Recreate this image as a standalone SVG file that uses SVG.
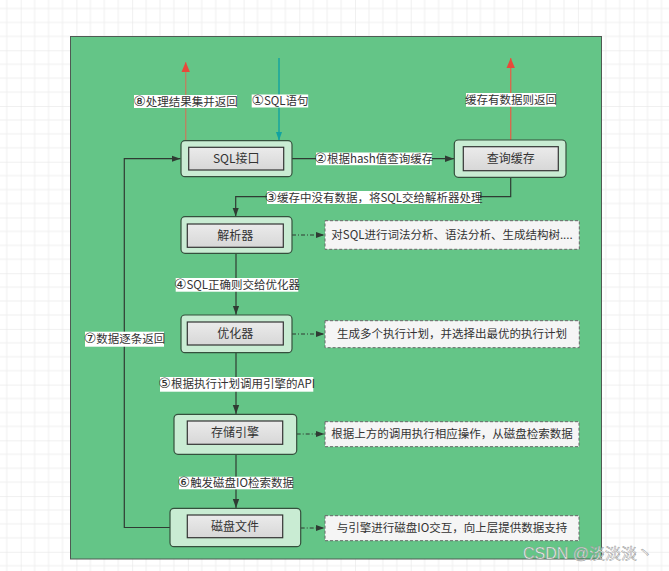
<svg xmlns="http://www.w3.org/2000/svg" width="669" height="571" viewBox="0 0 669 571">
  <style>
    .outer { fill: #c9ecd3; stroke: #35503d; stroke-width: 1.2; }
    .inner { fill: url(#innerGrad); stroke: #333333; stroke-width: 1.2; }
    .ntxt { font-family: "Noto Sans CJK SC", "Noto Sans", sans-serif; font-size: 12px; fill: #333333; text-anchor: middle; }
    .note { fill: #f5f5f5; stroke: #666666; stroke-width: 1; stroke-dasharray: 3 2; }
    .notetxt { font-family: "Noto Sans CJK SC", "Noto Sans", sans-serif; font-size: 11.5px; fill: #333333; text-anchor: middle; }
    .edge { fill: none; stroke: #2f3b33; stroke-width: 1.2; }
    .dashdot { fill: none; stroke: #2f3b33; stroke-width: 1.1; stroke-dasharray: 4 2 1 2; }
    .lblbg { fill: #ffffff; }
    .lbl { font-family: "Noto Sans CJK SC", "Noto Sans", sans-serif; font-size: 11.5px; fill: #333333; text-anchor: middle; }
    .cd { font-family: "DejaVu Sans", "Noto Sans CJK SC", sans-serif; font-size: 14px; }
  </style>
  <defs>
    <pattern id="grid" patternUnits="userSpaceOnUse" x="20.7" y="50.3" width="55.72" height="55.72">
      <path d="M13.93 0V55.72M27.86 0V55.72M41.79 0V55.72M0 13.93H55.72M0 27.86H55.72M0 41.79H55.72" stroke="#f0f0f0" stroke-width="1" fill="none"/>
      <path d="M0 0V55.72M0 0H55.72" stroke="#e2e2e2" stroke-width="1" fill="none"/>
    </pattern>
    <linearGradient id="innerGrad" x1="0" y1="0" x2="0" y2="1">
      <stop offset="0" stop-color="#ebebeb"/>
      <stop offset="1" stop-color="#d7d7d7"/>
    </linearGradient>
    <marker id="arr" markerUnits="userSpaceOnUse" markerWidth="10" markerHeight="8" refX="9" refY="4" orient="auto">
      <path d="M0 0.8L9 4L0 7.2Z" fill="#2f3b33"/>
    </marker>
    <marker id="arrTeal" markerUnits="userSpaceOnUse" markerWidth="10" markerHeight="8" refX="9" refY="4" orient="auto">
      <path d="M0 0.8L9 4L0 7.2Z" fill="#12a3a0"/>
    </marker>
    <marker id="arrRed" markerUnits="userSpaceOnUse" markerWidth="12" markerHeight="10" refX="10" refY="5" orient="auto">
      <path d="M0 0.8L10 5L0 9.2Z" fill="#e8493a"/>
    </marker>
  </defs>

  <rect x="0" y="0" width="669" height="571" fill="#ffffff"/>
  <rect x="0" y="0" width="669" height="571" fill="url(#grid)"/>
  <rect x="70.5" y="36.5" width="531" height="522.5" fill="#64c587" stroke="#4f5a53" stroke-width="1"/>

  <g id="connectors">
    <path d="M279 58V140.5" fill="none" stroke="#12a3a0" stroke-width="1.4" marker-end="url(#arrTeal)"/>
    <path d="M185.7 140.7V62" fill="none" stroke="#b88562" stroke-width="1.4" marker-end="url(#arrRed)"/>
    <path d="M510.7 140V58" fill="none" stroke="#d66a4e" stroke-width="1.4" marker-end="url(#arrRed)"/>
    <path class="edge" d="M292 158.7H454" marker-end="url(#arr)"/>
    <path class="edge" d="M510.7 177.3V196.7H235.7V216.5" marker-end="url(#arr)"/>
    <path class="edge" d="M236 253.3V314.7" marker-end="url(#arr)"/>
    <path class="edge" d="M236 352.7V414" marker-end="url(#arr)"/>
    <path class="edge" d="M236 454.3V508" marker-end="url(#arr)"/>
    <path class="edge" d="M170 527.5H124.3V158.7H180.5" marker-end="url(#arr)"/>
    <path class="dashdot" d="M292 235H324.5" marker-end="url(#arr)"/>
    <path class="dashdot" d="M292 334H324.5" marker-end="url(#arr)"/>
    <path class="dashdot" d="M296.7 434H324.5" marker-end="url(#arr)"/>
    <path class="dashdot" d="M300.7 528H324.5" marker-end="url(#arr)"/>

    <rect class="lblbg" x="134" y="95" width="103" height="13"/>
    <text class="lbl" x="185.5" y="105.5"><tspan class="cd">⑧</tspan>处理结果集并返回</text>
    <rect class="lblbg" x="251.7" y="94.5" width="56.5" height="13"/>
    <text class="lbl" x="280" y="105"><tspan class="cd">①</tspan>SQL语句</text>
    <rect class="lblbg" x="466" y="93" width="90" height="13.7"/>
    <text class="lbl" x="511" y="104">缓存有数据则返回</text>
    <rect class="lblbg" x="316" y="152.5" width="115.7" height="12.7"/>
    <text class="lbl" x="373.8" y="162.8"><tspan class="cd">②</tspan>根据hash值查询缓存</text>
    <rect class="lblbg" x="267" y="191" width="213" height="13"/>
    <text class="lbl" x="373.5" y="201.5"><tspan class="cd">③</tspan>缓存中没有数据，将SQL交给解析器处理</text>
    <rect class="lblbg" x="175.7" y="278" width="122.6" height="13.7"/>
    <text class="lbl" x="237" y="288.9"><tspan class="cd">④</tspan>SQL正确则交给优化器</text>
    <rect class="lblbg" x="160" y="377" width="153.3" height="14.7"/>
    <text class="lbl" x="236.7" y="388.4"><tspan class="cd">⑤</tspan>根据执行计划调用引擎的API</text>
    <rect class="lblbg" x="179" y="476.7" width="113.7" height="12.6"/>
    <text class="lbl" x="235.8" y="487"><tspan class="cd">⑥</tspan>触发磁盘IO检索数据</text>
    <rect class="lblbg" x="85" y="331.7" width="79" height="15"/>
    <text class="lbl" x="124.5" y="343.3"><tspan class="cd">⑦</tspan>数据逐条返回</text>
  </g>

  <g id="sql">
    <rect class="outer" x="181" y="140.7" width="111" height="36" rx="4"/>
    <rect class="inner" x="188.7" y="147.3" width="95" height="22.7"/>
    <text class="ntxt" x="236.2" y="163">SQL接口</text>
  </g>
  <g id="cache">
    <rect class="outer" x="454.3" y="140" width="111.7" height="37.3" rx="4"/>
    <rect class="inner" x="463.3" y="146.7" width="95" height="24"/>
    <text class="ntxt" x="510.8" y="162.9">查询缓存</text>
  </g>
  <g id="parser">
    <rect class="outer" x="181" y="216.7" width="111" height="36.6" rx="4"/>
    <rect class="inner" x="187.3" y="224" width="96" height="23.3"/>
    <text class="ntxt" x="235.3" y="240">解析器</text>
  </g>
  <g id="optimizer">
    <rect class="outer" x="181" y="315" width="111" height="37.7" rx="4"/>
    <rect class="inner" x="187.3" y="322" width="96" height="23"/>
    <text class="ntxt" x="235.3" y="337.8">优化器</text>
  </g>
  <g id="engine">
    <rect class="outer" x="174" y="414.3" width="122.7" height="40" rx="4"/>
    <rect class="inner" x="187.3" y="421" width="95.4" height="23.3"/>
    <text class="ntxt" x="235" y="437">存储引擎</text>
  </g>
  <g id="disk">
    <rect class="outer" x="170" y="508.3" width="130.7" height="38.4" rx="4"/>
    <rect class="inner" x="187.3" y="515" width="95.4" height="22.7"/>
    <text class="ntxt" x="235" y="530.6">磁盘文件</text>
  </g>

  <g id="note-parser">
    <rect class="note" x="325" y="220.7" width="254.3" height="28.6"/>
    <text class="notetxt" x="452" y="239">对SQL进行词法分析、语法分析、生成结构树....</text>
  </g>
  <g id="note-optimizer">
    <rect class="note" x="325" y="320.7" width="254.3" height="27"/>
    <text class="notetxt" x="452" y="338.3">生成多个执行计划，并选择出最优的执行计划</text>
  </g>
  <g id="note-engine">
    <rect class="note" x="325" y="421.7" width="254" height="25"/>
    <text class="notetxt" x="452" y="438.3">根据上方的调用执行相应操作，从磁盘检索数据</text>
  </g>
  <g id="note-disk">
    <rect class="note" x="325" y="515.7" width="254" height="25"/>
    <text class="notetxt" x="452" y="532.3">与引擎进行磁盘IO交互，向上层提供数据支持</text>
  </g>

  <text x="523" y="559" font-family="'Liberation Sans', 'Noto Sans CJK SC', sans-serif" font-size="16" fill="#ffffff" stroke="#8f8f8f" stroke-width="0.5" opacity="0.9">CSDN @淡淡淡丶</text>
</svg>
